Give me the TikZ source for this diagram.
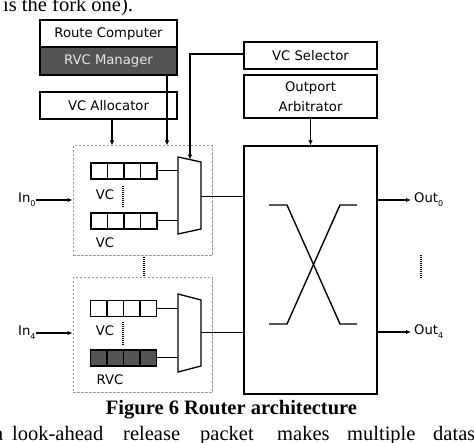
\documentclass[tikz,border=0pt]{standalone}
\usepackage{fontspec}
\setmainfont{Liberation Serif}
\newfontfamily\dvfont{DejaVu Sans}
\usetikzlibrary{arrows.meta,calc}
\newcommand\mysubs[1]{\raisebox{-0.3em}{\fontsize{8}{8}\selectfont #1}}
\begin{document}
\begin{tikzpicture}[x=1pt,y=-1pt,
  box/.style={draw, line width=1.3pt, minimum width=137pt, inner sep=0pt, align=center,
    font=\dvfont\fontsize{13.2}{15}\selectfont},
  rbox/.style={box, minimum width=133pt},
  dbox/.style={draw=gray!85!blue!70, line width=1pt, dash pattern=on 2.5pt off 1.5pt,
    minimum width=139pt, inner sep=0pt},
  buf/.style={draw, line width=1.2pt, minimum width=66pt, minimum height=16pt, inner sep=0pt,
    path picture={\foreach \k in {1,2,3}{\draw[line width=1.2pt]
      ($(path picture bounding box.north west)!\k/4!(path picture bounding box.north east)$) --
      ($(path picture bounding box.south west)!\k/4!(path picture bounding box.south east)$);}}},
  lbl/.style={font=\dvfont\fontsize{13.2}{15}\selectfont, inner sep=0pt},
  arr/.style={line width=1.2pt, -{Latex[length=5pt,width=4.5pt]}},
  wire/.style={line width=1pt},
  mux/.style={draw, line width=1.3pt},
  dots/.style={line width=2.6pt, dash pattern=on 1.1pt off 0.9pt},
  body/.style={font=\fontsize{20.5}{24}\selectfont, inner sep=0pt, anchor=base west}
]
\useasboundingbox (0,0) rectangle (474,443);

% surrounding paper text
\node[body] (top) at (3,12) {is the fork one).};
\node[body] (bot1) at (-6,440) {a};
\node[body] (bot2) at (12,440) {look-ahead};
\node[body] (bot3) at (123,440) {release};
\node[body] (bot4) at (200,440) {packet};
\node[body] (bot5) at (277,440) {makes};
\node[body] (bot6) at (347,440) {multiple};
\node[body] (bot7) at (433,440) {data};
\node[body] (bot8) at (467,440) {str};
\node[font=\bfseries\fontsize{20.5}{24}\selectfont, inner sep=0pt, anchor=base] (cap) at (231.5,415) {Figure 6 Router architecture};

% left control boxes
\node[box, minimum height=27pt] (rc) at (108.5,33.5) {Route Computer};
\node[box, minimum height=28pt, fill=black!67, text=black!10] (rvc) at (108.5,61) {RVC Manager};
\node[box, minimum height=27pt] (vca) at (108.5,105.5) {VC Allocator};

% right control boxes
\node[rbox, minimum height=27pt] (vcs) at (310.5,55.5) {VC Selector};
\node[rbox, minimum height=43pt, font=\dvfont\fontsize{13.2}{19.5}\selectfont] (oa) at (310.5,96.5) {Outport\\Arbitrator};
\node[rbox, minimum height=248pt] (xb) at (310.5,270) {};

% input port boxes
\node[dbox, minimum height=110pt] (db1) at (142.5,201) {};
\node[dbox, minimum height=115pt] (db2) at (142.5,335.5) {};

% buffers
\node[buf] (b1) at (124,171) {};
\node[buf] (b2) at (124,221) {};
\node[buf] (b3) at (123.5,308.5) {};
\node[buf, fill=black!67] (b4) at (123.5,358) {};

\node[lbl] (l1) at (105,195) {VC};
\node[lbl] (l2) at (105,243) {VC};
\node[lbl] (l3) at (105,331) {VC};
\node[lbl] (l4) at (110,380) {RVC};

% multiplexers
\draw[mux] (178,157) coordinate (m1tl) -- (201,162) -- (201,229) -- (178,234) coordinate (m1bl) -- cycle;
\draw[mux] (178,294) coordinate (m2tl) -- (201,300) -- (201,366) -- (178,372) coordinate (m2bl) -- cycle;
\coordinate (m1sel) at (190,159.6);
\coordinate (m1out) at (201,197);
\coordinate (m2out) at (201,333);

% dotted continuation marks
\coordinate (d1a) at (123,186); \coordinate (d1b) at (123,208);
\coordinate (d2a) at (144,257); \coordinate (d2b) at (144,277);
\coordinate (d3a) at (123,322); \coordinate (d3b) at (123,345);
\coordinate (d4a) at (421,255); \coordinate (d4b) at (421,278);
\draw[dots] (d1a) -- (d1b);
\draw[dots] (d2a) -- (d2b);
\draw[dots] (d3a) -- (d3b);
\draw[dots] (d4a) -- (d4b);

% crossbar X
\draw[line width=1.4pt] (269,205) -- (287,205) -- (340,324) -- (357,324);
\draw[line width=1.4pt] (357,205) -- (340,205) -- (287,324) -- (269,324);

% control connectors
\draw[arr] ([xshift=58.5pt]rvc.south) -- ([xshift=24.5pt]db1.north);
\draw[arr] ([xshift=3.5pt]vca.south) -- ([xshift=-30.5pt]db1.north);
\draw[arr] ([yshift=1.5pt]vcs.west) -| (m1sel);
\draw[arr] (oa.south) -- (xb.north);

% buffers to muxes
\draw[wire] (b1.east) -- (b1.east -| m1tl);
\draw[wire] (b2.east) -- (b2.east -| m1tl);
\draw[wire] (b3.east) -- (b3.east -| m2tl);
\draw[wire] (b4.east) -- (b4.east -| m2tl);

% muxes to crossbar
\draw[wire] (m1out) -- (m1out -| xb.west);
\draw[wire] (m2out) -- (m2out -| xb.west);

% inputs
\node[lbl, anchor=west] (in0) at (18,200) {In\mysubs{0}};
\node[lbl, anchor=west] (in4) at (18,333) {In\mysubs{4}};
\draw[arr] (in0.east) -- (in0.east -| db1.west);
\draw[arr] (in4.east) -- (in4.east -| db2.west);

% outputs
\node[lbl, anchor=west] (out0) at (414,200) {Out\mysubs{0}};
\node[lbl, anchor=west] (out4) at (414,332) {Out\mysubs{4}};
\draw[arr] (out0.west -| xb.east) -- ([xshift=-3pt]out0.west);
\draw[arr] (out4.west -| xb.east) -- ([xshift=-3pt]out4.west);
\end{tikzpicture}
\end{document}
